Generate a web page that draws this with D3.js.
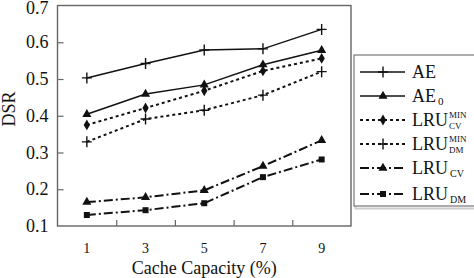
<!DOCTYPE html>
<html>
<head>
<meta charset="utf-8">
<script src="https://cdn.jsdelivr.net/npm/d3@7"></script>
<style>
  body { margin: 0; background: #fff; }
  svg text { font-family: "Liberation Serif", "DejaVu Serif", serif; fill: #111; }
</style>
</head>
<body>
<svg id="chart" width="474" height="278"></svg>
<script>
// data
const capacity = [1, 3, 5, 7, 9];
const ae       = [0.503, 0.542, 0.579, 0.582, 0.635];
const ae0      = [0.404, 0.459, 0.484, 0.539, 0.578];
const lruCvMin = [0.375, 0.421, 0.468, 0.522, 0.556];
const lruDmMin = [0.329, 0.391, 0.415, 0.456, 0.520];
const lruCv    = [0.165, 0.178, 0.197, 0.263, 0.333];
const lruDm    = [0.130, 0.143, 0.162, 0.233, 0.281];
const yTicks = [0.1, 0.2, 0.3, 0.4, 0.5, 0.6, 0.7];
const xInnerTicks = [2, 4, 6, 8];

const series = [
  { name: "AE", sub: "0", showSub: false, values: ae, dash: null, marker: "plus" },
  { name: "AE", sub: "0", showSub: true, values: ae0, dash: null, marker: "triangle" },
  { name: "LRU", sub: "CV", sup: "MIN", values: lruCvMin, dash: "3,3", marker: "diamond" },
  { name: "LRU", sub: "DM", sup: "MIN", values: lruDmMin, dash: "3,3", marker: "plus" },
  { name: "LRU", sub: "CV", values: lruCv, dash: "9,3,2,3", marker: "triangle" },
  { name: "LRU", sub: "DM", values: lruDm, dash: "9,3,2,3", marker: "square" }
];

const svg = d3.select("#chart");
const plotLeft = 57.5, plotRight = 351, plotTop = 5.5, plotBottom = 226;

const x = d3.scaleLinear().domain([0, 10]).range([plotLeft, plotRight]);
const y = d3.scaleLinear().domain([0.1, 0.7]).range([plotBottom, plotTop]);

// frame
svg.append("rect")
  .attr("x", plotLeft).attr("y", plotTop)
  .attr("width", plotRight - plotLeft).attr("height", plotBottom - plotTop)
  .attr("fill", "none").attr("stroke", "#666").attr("stroke-width", 1.4);

// y axis ticks (inward) and labels
const yAxis = svg.append("g").attr("transform", "translate(" + plotLeft + ",0)")
  .call(d3.axisRight(y).tickValues(yTicks.slice(1, -1)).tickSize(6).tickFormat(""));
yAxis.select(".domain").remove();
yAxis.selectAll("line").attr("stroke", "#666").attr("stroke-width", 1.2);

svg.append("g").selectAll("text")
  .data(yTicks).enter().append("text")
  .attr("x", plotLeft - 9).attr("y", d => Math.max(y(d) + 6, 13.5))
  .attr("text-anchor", "end")
  .style("font-size", "18px")
  .text(d => d.toFixed(1));

// x axis inner ticks and odd labels
const xAxis = svg.append("g").attr("transform", "translate(0," + plotBottom + ")")
  .call(d3.axisTop(x).tickValues(xInnerTicks).tickSize(6).tickFormat(""));
xAxis.select(".domain").remove();
xAxis.selectAll("line").attr("stroke", "#666").attr("stroke-width", 1.2);

svg.append("g").selectAll("text")
  .data(capacity).enter().append("text")
  .attr("x", d => x(d)).attr("y", 253)
  .attr("text-anchor", "middle")
  .style("font-size", "14px")
  .text(d => d);

svg.append("text")
  .attr("x", x(5)).attr("y", 274)
  .attr("text-anchor", "middle")
  .style("font-size", "18px")
  .text("Cache Capacity (%)");

svg.append("text")
  .attr("transform", "translate(15,109) rotate(-90)")
  .attr("text-anchor", "middle")
  .style("font-size", "18px")
  .text("DSR");

const drawMarker = function(g, type, cx, cy) {
  if (type === "plus") {
    g.append("path")
      .attr("d", "M" + (cx - 5) + "," + cy + "H" + (cx + 5) + "M" + cx + "," + (cy - 5.5) + "V" + (cy + 5.5))
      .attr("stroke", "#111").attr("stroke-width", 1.4);
  } else {
    const sym = type === "triangle" ? d3.symbolTriangle : type === "diamond" ? d3.symbolDiamond : d3.symbolSquare;
    const size = type === "triangle" ? 36 : type === "diamond" ? 34 : 36;
    g.append("path")
      .attr("transform", "translate(" + cx + "," + cy + ")")
      .attr("d", d3.symbol().type(sym).size(size)())
      .attr("fill", "#111");
  }
};

const line = d3.line().x((d, i) => x(capacity[i])).y(d => y(d));

series.forEach(function(s) {
  const g = svg.append("g");
  g.append("path")
    .datum(s.values)
    .attr("fill", "none")
    .attr("stroke", "#111")
    .attr("stroke-width", s.dash ? 2 : 1.5)
    .attr("stroke-dasharray", s.dash)
    .attr("d", line);
  s.values.forEach((v, i) => drawMarker(g, s.marker, x(capacity[i]), y(v)));
});

// legend
const legend = svg.append("g");
legend.append("rect")
  .attr("x", 355.5).attr("y", 56.5).attr("width", 130).attr("height", 152)
  .attr("fill", "none").attr("stroke", "#ccc").attr("stroke-width", 2);
legend.append("rect")
  .attr("x", 354).attr("y", 55).attr("width", 130).attr("height", 151)
  .attr("fill", "#fff").attr("stroke", "#777").attr("stroke-width", 1.2);

const rowY = [72, 96, 120, 144, 168, 194];
series.forEach(function(s, i) {
  const ly = rowY[i];
  const g = legend.append("g");
  g.append("line")
    .attr("x1", 360).attr("x2", 405).attr("y1", ly).attr("y2", ly)
    .attr("stroke", "#111").attr("stroke-width", s.dash ? 2 : 1.5)
    .attr("stroke-dasharray", s.dash);
  drawMarker(g, s.marker, 383, ly);
  const t = g.append("text")
    .attr("x", 412).attr("y", ly + 6)
    .style("font-size", "18px");
  t.append("tspan").text(s.name);
  if (s.sup) {
    const tx = 412 + t.node().getComputedTextLength() + 1;
    g.append("text").attr("x", tx).attr("y", ly - 2).style("font-size", "9px").text(s.sup);
    g.append("text").attr("x", tx).attr("y", ly + 9).style("font-size", "9px").text(s.sub);
  } else if (s.showSub !== false) {
    const tx = 412 + t.node().getComputedTextLength() + 2;
    g.append("text").attr("x", tx).attr("y", ly + 9)
      .style("font-size", s.name === "AE" ? "11px" : "10px").text(s.sub);
  }
});
</script>
</body>
</html>
